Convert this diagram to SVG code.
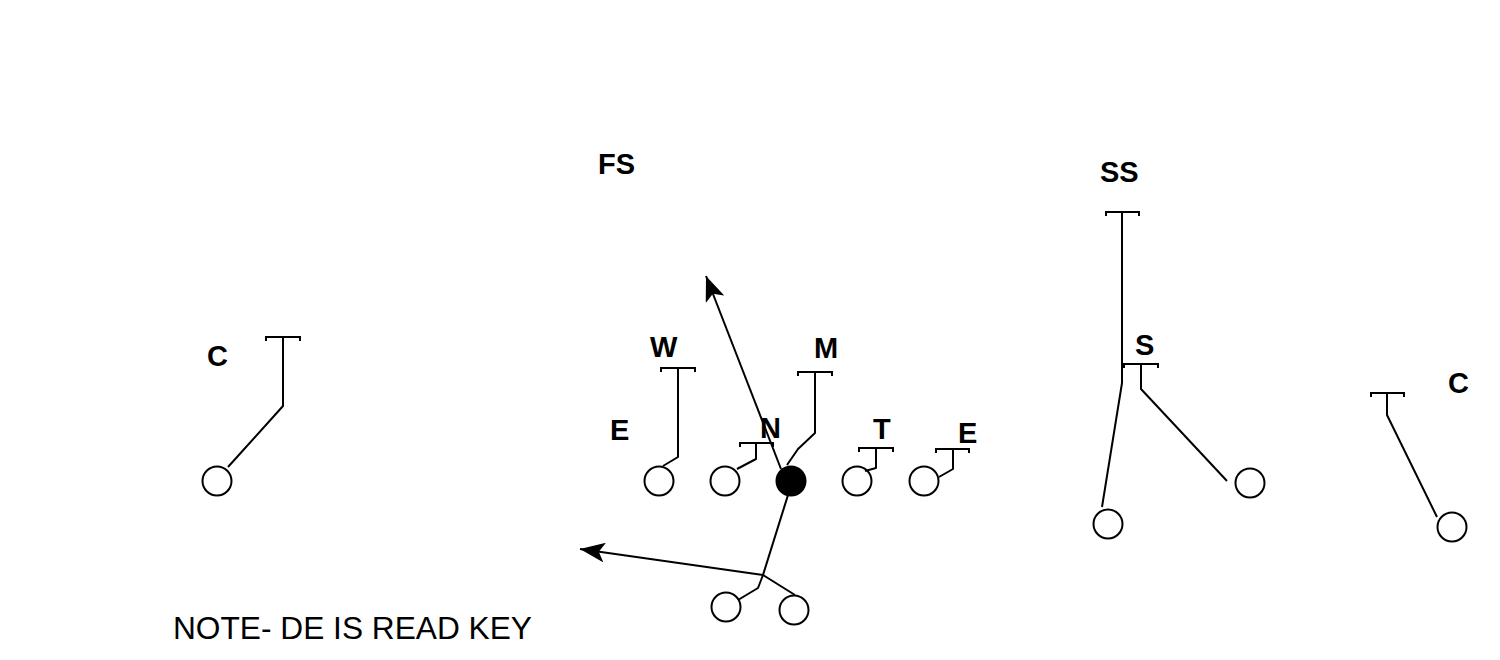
<svg xmlns="http://www.w3.org/2000/svg" width="1500" height="660" viewBox="0 0 1500 660">
<style>
.lbl{font-family:"Liberation Sans",Arial,sans-serif;font-weight:bold;font-size:29px;fill:#000}
.note{font-family:"Liberation Sans",Arial,sans-serif;font-size:31px;fill:#000}
.plr{fill:#fff;stroke:#000;stroke-width:2}
.ball{fill:#000;stroke:#000;stroke-width:2}
.brk{fill:none;stroke:#000;stroke-width:2}
.rt{fill:none;stroke:#000;stroke-width:2;stroke-linejoin:round}
</style>
<defs>
<marker id="ah" viewBox="-25 -10 26 20" markerWidth="26" markerHeight="20" refX="0" refY="0" markerUnits="userSpaceOnUse" orient="auto">
<path d="M0,0 L-25,-10 L-19,0 L-25,10 Z" fill="#000"/>
</marker>
</defs>
<rect width="1500" height="660" fill="#fff"/>

<!-- defenders -->
<g id="def-FS"><text class="lbl" x="598" y="174">FS</text></g>
<g id="def-SS"><text class="lbl" x="1100" y="182">SS</text><path class="brk" d="M1106,216 V212 H1139 V216"/></g>
<g id="def-C-left"><text class="lbl" x="207" y="366">C</text><path class="brk" d="M266,341 V337 H300 V341"/></g>
<g id="def-W"><text class="lbl" x="650" y="357">W</text><path class="brk" d="M661,372 V368 H695 V372"/></g>
<g id="def-M"><text class="lbl" x="814" y="358">M</text><path class="brk" d="M798,376 V372 H832 V376"/></g>
<g id="def-E-left"><text class="lbl" x="610" y="440">E</text></g>
<g id="def-N"><text class="lbl" x="760" y="438">N</text><path class="brk" d="M740,447 V443 H773 V447"/></g>
<g id="def-T"><text class="lbl" x="873" y="439">T</text><path class="brk" d="M859,452 V448 H893 V452"/></g>
<g id="def-E-right"><text class="lbl" x="958" y="443">E</text><path class="brk" d="M936,453 V449 H969 V453"/></g>
<g id="def-S"><text class="lbl" x="1135" y="355">S</text><path class="brk" d="M1124,368 V364 H1158 V368"/></g>
<g id="def-C-right"><text class="lbl" x="1448" y="393">C</text><path class="brk" d="M1371,397 V393 H1404 V397"/></g>

<!-- offense -->
<g id="off-WR-left"><circle class="plr" cx="217" cy="481" r="14.5"/></g>
<g id="off-LT"><circle class="plr" cx="659" cy="481" r="14.5"/></g>
<g id="off-LG"><circle class="plr" cx="725" cy="481" r="14.5"/></g>
<g id="off-C"><circle class="ball" cx="791" cy="481" r="14.5"/></g>
<g id="off-RG"><circle class="plr" cx="857" cy="481" r="14.5"/></g>
<g id="off-RT"><circle class="plr" cx="924" cy="481" r="14.5"/></g>
<g id="off-QB"><circle class="plr" cx="726" cy="607" r="14.5"/></g>
<g id="off-RB"><circle class="plr" cx="794" cy="610" r="14.5"/></g>
<g id="off-TE"><circle class="plr" cx="1108" cy="524" r="14.5"/></g>
<g id="off-WR-slot"><circle class="plr" cx="1250" cy="483" r="14.5"/></g>
<g id="off-WR-right"><circle class="plr" cx="1452" cy="527" r="14.5"/></g>

<!-- connectors -->
<g id="connectors">
<path class="rt" d="M283,337 V406 L228,467"/>
<path class="rt" d="M678,368 V457 L663,466"/>
<path class="rt" d="M756,443 V459 L737,469"/>
<path class="rt" d="M815,372 V433 L798,449 L787,465"/>
<path class="rt" d="M876,448 V468 L865,471"/>
<path class="rt" d="M953,449 V469 L939,477"/>
<path class="rt" d="M1122,212 V383 L1102,507"/>
<path class="rt" d="M1141,364 V389 L1227,481"/>
<path class="rt" d="M1387,393 V415 L1437,517"/>
<path class="rt" d="M781,469 L706,276" marker-end="url(#ah)"/>
<path class="rt" d="M788,495 L763,575"/>
<path class="rt" d="M763,575 L758,588 L738,600"/>
<path class="rt" d="M763,575 L795,595"/>
<path class="rt" d="M763,575 L580,549" marker-end="url(#ah)"/>
</g>

<text class="note" x="173" y="639" textLength="359" lengthAdjust="spacingAndGlyphs">NOTE- DE IS READ KEY</text>
</svg>
